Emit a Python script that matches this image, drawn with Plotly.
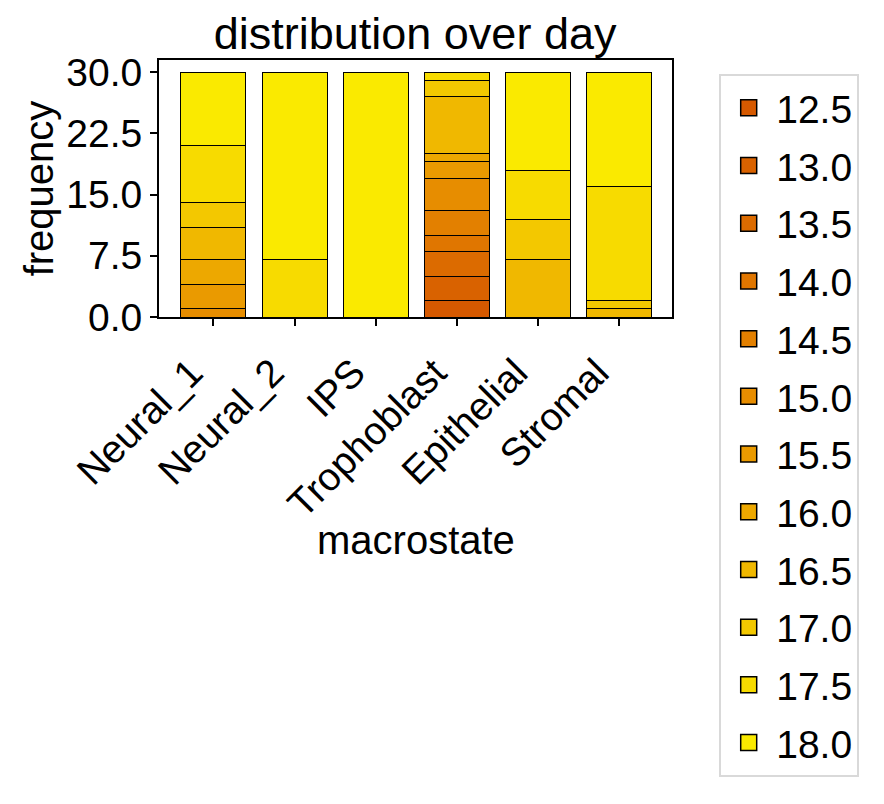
import plotly.graph_objects as go

categories = ["Neural_1", "Neural_2", "IPS", "Trophoblast", "Epithelial", "Stromal"]
days = ["12.5", "13.0", "13.5", "14.0", "14.5", "15.0",
        "15.5", "16.0", "16.5", "17.0", "17.5", "18.0"]

# counts per macrostate, one entry per day (12.5 ... 18.0)
neural_1 = [0, 0, 0, 0, 0, 1, 3, 3, 4, 3, 7, 9]
neural_2 = [0, 0, 0, 0, 0, 0, 0, 0, 0, 0, 7, 23]
ips = [0, 0, 0, 0, 0, 0, 0, 0, 0, 0, 0, 30]
trophoblast = [2, 3, 3, 2, 3, 4, 2, 1, 7, 2, 1, 0]
epithelial = [0, 0, 0, 0, 0, 0, 0, 0, 7, 5, 6, 12]
stromal = [0, 0, 0, 0, 0, 0, 0, 0, 1, 1, 14, 14]

day_colors = ["#D65900", "#D96200", "#DC6B00", "#E07600", "#E38000", "#E78D00",
              "#EA9A00", "#EDA800", "#F0B800", "#F3C800", "#F7DB00", "#FAEA00"]

FONT = "Liberation Sans, Arial, sans-serif"


def main():
    rows = [neural_1, neural_2, ips, trophoblast, epithelial, stromal]

    fig = go.Figure()
    for i, day in enumerate(days):
        vals = [r[i] if r[i] else None for r in rows]
        fig.add_trace(go.Bar(
            x=categories,
            y=vals,
            name=day,
            legendgroup=day,
            showlegend=False,
            marker=dict(color=day_colors[i], line=dict(color="black", width=1)),
            width=0.8,
        ))
        # legend-only entry so the swatch can be bigger than plotly's bar icon
        fig.add_trace(go.Scatter(
            x=[None],
            y=[None],
            mode="markers",
            name=day,
            legendgroup=day,
            marker=dict(symbol="square", size=16, color=day_colors[i],
                        line=dict(color="black", width=1.5)),
        ))

    # page body adds an 8px offset, margins compensate for it
    fig.update_layout(
        barmode="stack",
        width=884,
        height=804,
        margin=dict(l=151, r=220, t=52, b=495),
        paper_bgcolor="white",
        plot_bgcolor="white",
        font=dict(family=FONT, size=39, color="black"),
        title=dict(text="distribution over day", xref="container", x=0.4605,
                   xanchor="center", y=0.969, yanchor="middle",
                   font=dict(size=45)),
        legend=dict(
            x=1.092, xanchor="left", y=0.9455, yanchor="top",
            traceorder="grouped",
            tracegroupgap=4,
            itemwidth=45,
            maxheight=780,
            bordercolor="#d9d9d9", borderwidth=2,
            font=dict(size=39),
        ),
        showlegend=True,
        annotations=[dict(
            text="macrostate", xref="paper", yref="paper",
            x=0.5, y=-0.868, xanchor="center", yanchor="middle",
            showarrow=False, font=dict(size=40),
        )],
    )

    fig.update_xaxes(
        range=[-0.67, 5.65],
        tickangle=-45,
        ticklabelshift=-22,
        ticklabelstandoff=8,
        ticks="outside", ticklen=7, tickwidth=2, tickcolor="black",
        showline=True, linecolor="black", linewidth=2, mirror=True,
        showgrid=False, automargin=False,
    )
    fig.update_yaxes(
        range=[0, 31.5],
        tick0=0, dtick=7.5, tickformat=".1f",
        ticks="outside", ticklen=7, tickwidth=2, tickcolor="black",
        showline=True, linecolor="black", linewidth=2, mirror=True,
        showgrid=False, zeroline=False, automargin=False,
        title=dict(text="frequency", standoff=0, font=dict(size=40)),
    )

    fig.write_html("out.html")


if __name__ == "__main__":
    main()
